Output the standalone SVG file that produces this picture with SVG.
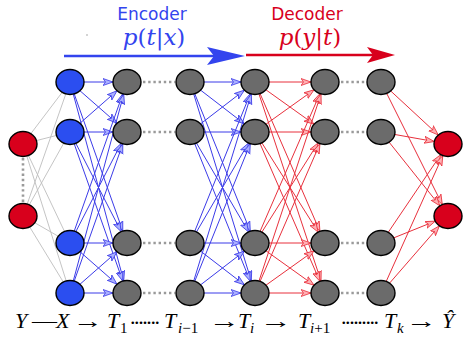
<svg xmlns="http://www.w3.org/2000/svg" width="474" height="347" viewBox="0 0 474 347">
<style>
.nb{fill:#2b4ef0;stroke:#000;stroke-width:1.4}
.nr{fill:#d8001c;stroke:#000;stroke-width:1.4}
.ng{fill:#6b6b6b;stroke:#000;stroke-width:1.4}
.lg{stroke:#bdbdbd;stroke-width:0.9;fill:none}
.lb{stroke:#3b3be8;stroke-width:1;fill:none;marker-end:url(#ab)}
.lr{stroke:#e8303c;stroke-width:1;fill:none;marker-end:url(#ar)}
.dot{stroke:#9a9a9a;stroke-width:2.6;stroke-dasharray:2.4,2.8;fill:none}
.m{font-family:"Liberation Serif","DejaVu Serif",serif;font-size:22px;fill:#000}
.i{font-style:italic}
.s{font-size:15px}
.h{font-family:"DejaVu Sans",sans-serif;font-size:17px;text-anchor:middle}
.p{font-family:"DejaVu Serif","Liberation Serif",serif;font-size:23px;text-anchor:middle}
</style>
<defs>
<marker id="ab" markerUnits="userSpaceOnUse" markerWidth="11" markerHeight="9" refX="10" refY="4" orient="auto">
<path d="M0,0.5 L10,4 L0,7.5 L2.5,4 z" fill="#aab0ff" stroke="#3b3be8" stroke-width="0.8"/>
</marker>
<marker id="ar" markerUnits="userSpaceOnUse" markerWidth="11" markerHeight="9" refX="10" refY="4" orient="auto">
<path d="M0,0.5 L10,4 L0,7.5 L2.5,4 z" fill="#ffb0b4" stroke="#e8303c" stroke-width="0.8"/>
</marker>
</defs>
<rect width="474" height="347" fill="#fff"/>
<g id="titles">
<text class="h" x="152" y="20" fill="#3344ee">Encoder</text>
<text class="p" x="154" y="45" fill="#3344ee"><tspan class="i">p</tspan>(<tspan class="i">t</tspan>|<tspan class="i">x</tspan>)</text>
<text class="h" x="307" y="20" fill="#d8001c">Decoder</text>
<text class="p" x="310" y="45" fill="#d8001c"><tspan class="i">p</tspan>(<tspan class="i">y</tspan>|<tspan class="i">t</tspan>)</text>
<circle cx="87" cy="35" r="0.7" fill="#888"/>
</g>
<g id="flow-arrows">
<line x1="64" y1="56" x2="216" y2="56" stroke="#3344ee" stroke-width="2.6"/>
<polygon points="245,56 207,47 214,56 207,65" fill="#3344ee"/>
<line x1="246" y1="55" x2="374" y2="55" stroke="#d8001c" stroke-width="2.6"/>
<polygon points="395,55 367,47 373,55 367,63" fill="#d8001c"/>
</g>
<g id="connectors">
<g id="input-lines">
<line class="lg" x1="23" y1="144" x2="70" y2="82"/>
<line class="lg" x1="23" y1="144" x2="70" y2="132"/>
<line class="lg" x1="23" y1="144" x2="70" y2="243"/>
<line class="lg" x1="23" y1="144" x2="70" y2="293"/>
<line class="lg" x1="23" y1="216" x2="70" y2="82"/>
<line class="lg" x1="23" y1="216" x2="70" y2="132"/>
<line class="lg" x1="23" y1="216" x2="70" y2="243"/>
<line class="lg" x1="23" y1="216" x2="70" y2="293"/>
</g>
<g id="dotted">
<line class="dot" x1="23" y1="158" x2="23" y2="203"/>
<line class="dot" x1="143" y1="82" x2="175" y2="82"/>
<line class="dot" x1="143" y1="132" x2="175" y2="132"/>
<line class="dot" x1="143" y1="243" x2="175" y2="243"/>
<line class="dot" x1="143" y1="293" x2="175" y2="293"/>
<line class="dot" x1="341" y1="82" x2="366" y2="82"/>
<line class="dot" x1="341" y1="132" x2="366" y2="132"/>
<line class="dot" x1="341" y1="243" x2="366" y2="243"/>
<line class="dot" x1="341" y1="293" x2="366" y2="293"/>
</g>
<g id="layer1">
<line class="lb" x1="70" y1="82" x2="113" y2="82"/>
<line class="lb" x1="70" y1="82" x2="117.01" y2="123.24"/>
<line class="lb" x1="70" y1="82" x2="122.78" y2="231.08"/>
<line class="lb" x1="70" y1="82" x2="123.72" y2="280.85"/>
<line class="lb" x1="70" y1="132" x2="117.01" y2="90.76"/>
<line class="lb" x1="70" y1="132" x2="113" y2="132"/>
<line class="lb" x1="70" y1="132" x2="121.17" y2="231.64"/>
<line class="lb" x1="70" y1="132" x2="122.78" y2="281.08"/>
<line class="lb" x1="70" y1="243" x2="122.78" y2="93.92"/>
<line class="lb" x1="70" y1="243" x2="121.17" y2="143.36"/>
<line class="lb" x1="70" y1="243" x2="113" y2="243"/>
<line class="lb" x1="70" y1="243" x2="117.01" y2="284.24"/>
<line class="lb" x1="70" y1="293" x2="123.72" y2="94.15"/>
<line class="lb" x1="70" y1="293" x2="122.78" y2="143.92"/>
<line class="lb" x1="70" y1="293" x2="117.01" y2="251.76"/>
<line class="lb" x1="70" y1="293" x2="113" y2="293"/>
</g>
<g id="layer2">
<line class="lb" x1="190" y1="82" x2="241" y2="82"/>
<line class="lb" x1="190" y1="82" x2="244.39" y2="123.84"/>
<line class="lb" x1="190" y1="82" x2="250.25" y2="231.24"/>
<line class="lb" x1="190" y1="82" x2="251.29" y2="280.95"/>
<line class="lb" x1="190" y1="132" x2="244.39" y2="90.16"/>
<line class="lb" x1="190" y1="132" x2="241" y2="132"/>
<line class="lb" x1="190" y1="132" x2="248.51" y2="231.92"/>
<line class="lb" x1="190" y1="132" x2="250.25" y2="281.24"/>
<line class="lb" x1="190" y1="243" x2="250.25" y2="93.76"/>
<line class="lb" x1="190" y1="243" x2="248.51" y2="143.08"/>
<line class="lb" x1="190" y1="243" x2="241" y2="243"/>
<line class="lb" x1="190" y1="243" x2="244.39" y2="284.84"/>
<line class="lb" x1="190" y1="293" x2="251.29" y2="94.05"/>
<line class="lb" x1="190" y1="293" x2="250.25" y2="143.76"/>
<line class="lb" x1="190" y1="293" x2="244.39" y2="251.16"/>
<line class="lb" x1="190" y1="293" x2="241" y2="293"/>
</g>
<g id="layer3">
<line class="lr" x1="255" y1="82" x2="311" y2="82"/>
<line class="lr" x1="255" y1="82" x2="314.07" y2="124.19"/>
<line class="lr" x1="255" y1="82" x2="319.93" y2="231.35"/>
<line class="lr" x1="255" y1="82" x2="321.02" y2="281.01"/>
<line class="lr" x1="255" y1="132" x2="314.07" y2="89.81"/>
<line class="lr" x1="255" y1="132" x2="311" y2="132"/>
<line class="lr" x1="255" y1="132" x2="318.13" y2="232.11"/>
<line class="lr" x1="255" y1="132" x2="319.93" y2="281.35"/>
<line class="lr" x1="255" y1="243" x2="319.93" y2="93.65"/>
<line class="lr" x1="255" y1="243" x2="318.13" y2="142.89"/>
<line class="lr" x1="255" y1="243" x2="311" y2="243"/>
<line class="lr" x1="255" y1="243" x2="314.07" y2="285.19"/>
<line class="lr" x1="255" y1="293" x2="321.02" y2="93.99"/>
<line class="lr" x1="255" y1="293" x2="319.93" y2="143.65"/>
<line class="lr" x1="255" y1="293" x2="314.07" y2="250.81"/>
<line class="lr" x1="255" y1="293" x2="311" y2="293"/>
</g>
<g id="layer4">
<line class="lr" x1="381" y1="82" x2="438.28" y2="135.01"/>
<line class="lr" x1="381" y1="132" x2="434.27" y2="141.54"/>
<line class="lr" x1="381" y1="243" x2="440.76" y2="154.7"/>
<line class="lr" x1="381" y1="293" x2="442.78" y2="155.6"/>
<line class="lr" x1="381" y1="82" x2="442.29" y2="204.59"/>
<line class="lr" x1="381" y1="132" x2="439.88" y2="205.82"/>
<line class="lr" x1="381" y1="243" x2="435.24" y2="221.14"/>
<line class="lr" x1="381" y1="293" x2="439.41" y2="225.87"/>
</g>
</g>
<g id="nodes">
<g id="Y"><ellipse class="nr" cx="23" cy="144" rx="14" ry="12.5"/><ellipse class="nr" cx="23" cy="216" rx="14" ry="12.5"/></g>
<g id="X"><ellipse class="nb" cx="70" cy="82" rx="14" ry="12.5"/><ellipse class="nb" cx="70" cy="132" rx="14" ry="12.5"/><ellipse class="nb" cx="70" cy="243" rx="14" ry="12.5"/><ellipse class="nb" cx="70" cy="293" rx="14" ry="12.5"/></g>
<g id="T1"><ellipse class="ng" cx="127" cy="82" rx="14" ry="12.5"/><ellipse class="ng" cx="127" cy="132" rx="14" ry="12.5"/><ellipse class="ng" cx="127" cy="243" rx="14" ry="12.5"/><ellipse class="ng" cx="127" cy="293" rx="14" ry="12.5"/></g>
<g id="Ti-1"><ellipse class="ng" cx="190" cy="82" rx="14" ry="12.5"/><ellipse class="ng" cx="190" cy="132" rx="14" ry="12.5"/><ellipse class="ng" cx="190" cy="243" rx="14" ry="12.5"/><ellipse class="ng" cx="190" cy="293" rx="14" ry="12.5"/></g>
<g id="Ti"><ellipse class="ng" cx="255" cy="82" rx="14" ry="12.5"/><ellipse class="ng" cx="255" cy="132" rx="14" ry="12.5"/><ellipse class="ng" cx="255" cy="243" rx="14" ry="12.5"/><ellipse class="ng" cx="255" cy="293" rx="14" ry="12.5"/></g>
<g id="Ti+1"><ellipse class="ng" cx="325" cy="82" rx="14" ry="12.5"/><ellipse class="ng" cx="325" cy="132" rx="14" ry="12.5"/><ellipse class="ng" cx="325" cy="243" rx="14" ry="12.5"/><ellipse class="ng" cx="325" cy="293" rx="14" ry="12.5"/></g>
<g id="Tk"><ellipse class="ng" cx="381" cy="82" rx="14" ry="12.5"/><ellipse class="ng" cx="381" cy="132" rx="14" ry="12.5"/><ellipse class="ng" cx="381" cy="243" rx="14" ry="12.5"/><ellipse class="ng" cx="381" cy="293" rx="14" ry="12.5"/></g>
<g id="Yhat"><ellipse class="nr" cx="448" cy="144" rx="14" ry="12.5"/><ellipse class="nr" cx="448" cy="216" rx="14" ry="12.5"/></g>
</g>
<g id="chain-label" class="m">
<text class="m i" x="15" y="328">Y</text>
<text class="m" x="32" y="328" textLength="25" lengthAdjust="spacingAndGlyphs">—</text>
<text class="m i" x="56" y="328">X</text>
<text class="m" x="73" y="328" textLength="30" lengthAdjust="spacingAndGlyphs">→</text>
<text class="m i" x="107" y="328">T</text>
<text class="m s" x="120" y="333">1</text>
<text class="m" x="130" y="324" textLength="30" lengthAdjust="spacing" font-size="16">.......</text>
<text class="m i" x="164" y="328">T</text>
<text class="m s" x="178" y="333"><tspan class="i">i</tspan>−1</text>
<text class="m" x="209" y="328" textLength="31" lengthAdjust="spacingAndGlyphs">→</text>
<text class="m i" x="238" y="328">T</text>
<text class="m s i" x="250" y="333">i</text>
<text class="m" x="260" y="328" textLength="32" lengthAdjust="spacingAndGlyphs">→</text>
<text class="m i" x="298" y="328">T</text>
<text class="m s" x="310" y="333"><tspan class="i">i</tspan>+1</text>
<text class="m" x="341" y="324" textLength="38" lengthAdjust="spacing" font-size="16">.........</text>
<text class="m i" x="384" y="328">T</text>
<text class="m s i" x="397" y="333">k</text>
<text class="m" x="406" y="328" textLength="31" lengthAdjust="spacingAndGlyphs">→</text>
<text class="m i" x="442" y="328">Ŷ</text>
</g>
</svg>
